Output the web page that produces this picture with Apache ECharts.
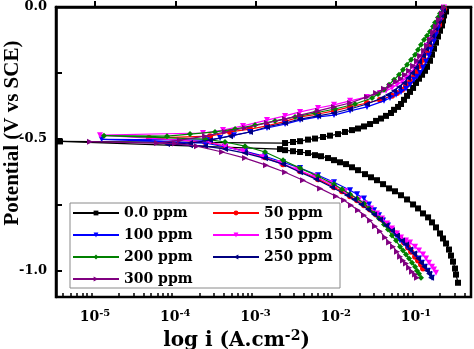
<!DOCTYPE html>
<html>
<head>
<meta charset="utf-8">
<script src="https://cdn.jsdelivr.net/npm/echarts@6/dist/echarts.min.js"></script>
<style>html,body{margin:0;padding:0;background:#fff}#c{width:474px;height:349px}</style>
</head>
<body>
<div id="c"></div>
<script>
// Tick labels / ticks
const xMajorExp = [-5, -4, -3, -2, -1];
const minorMultipliers = [2, 3, 4, 5, 6, 7, 8, 9];
const yLabels = [-1.0, -0.5, 0.0];
const yTicks = [-1.0, -0.75, -0.5, -0.25, 0.0];
const seriesNames = ['0.0 ppm', '50 ppm', '100 ppm', '150 ppm', '200 ppm', '250 ppm', '300 ppm'];

// Each curve: log i values and potentials (V vs SCE), cathodic end -> Ecorr -> anodic end
const logI_0 = [-0.477,-0.502,-0.514,-0.539,-0.564,-0.589,-0.626,-0.664,-0.701,-0.751,-0.801,-0.850,-0.913,-0.975,-1.037,-1.112,-1.187,-1.262,-1.336,-1.411,-1.486,-1.561,-1.636,-1.723,-1.798,-1.872,-1.947,-2.022,-2.097,-2.184,-2.259,-2.346,-2.445,-2.533,-2.632,-2.695,
  -5.436,
  -2.632,-2.533,-2.445,-2.346,-2.259,-2.159,-2.072,-1.972,-1.885,-1.798,-1.723,-1.648,-1.573,-1.498,-1.436,-1.374,-1.312,-1.274,-1.224,-1.187,-1.150,-1.112,-1.075,-1.037,-1.000,-0.963,-0.925,-0.888,-0.863,-0.826,-0.801,-0.776,-0.751,-0.726,-0.701,-0.676,-0.664,-0.651,-0.626];
const E_0 = [-1.046,-1.015,-0.992,-0.966,-0.943,-0.920,-0.897,-0.878,-0.859,-0.836,-0.817,-0.798,-0.783,-0.764,-0.749,-0.730,-0.714,-0.699,-0.688,-0.672,-0.657,-0.646,-0.634,-0.619,-0.608,-0.596,-0.589,-0.581,-0.573,-0.566,-0.562,-0.554,-0.550,-0.547,-0.543,-0.539,
  -0.510,
  -0.516,-0.512,-0.509,-0.503,-0.499,-0.493,-0.488,-0.482,-0.474,-0.467,-0.461,-0.453,-0.444,-0.432,-0.423,-0.413,-0.402,-0.390,-0.379,-0.368,-0.352,-0.337,-0.322,-0.307,-0.288,-0.272,-0.257,-0.242,-0.227,-0.204,-0.181,-0.158,-0.135,-0.112,-0.090,-0.070,-0.051,-0.032,-0.017];

const logI_50 = [-0.913,-0.938,-0.975,-1.012,-1.062,-1.100,-1.150,-1.199,-1.249,-1.299,-1.361,-1.424,-1.498,-1.573,-1.648,-1.735,-1.822,-1.922,-2.022,-2.221,-2.445,-2.657,-2.882,-3.131,-3.380,-3.629,
  -4.327,
  -3.567,-3.318,-3.069,-2.857,-2.632,-2.445,-2.221,-2.022,-1.822,-1.611,-1.449,-1.299,-1.237,-1.174,-1.125,-1.075,-1.025,-0.988,-0.938,-0.900,-0.863,-0.826,-0.788,-0.751,-0.713,-0.688,-0.651];
const E_50 = [-0.992,-0.977,-0.962,-0.947,-0.928,-0.912,-0.893,-0.876,-0.859,-0.844,-0.825,-0.806,-0.787,-0.768,-0.752,-0.733,-0.718,-0.699,-0.684,-0.653,-0.623,-0.596,-0.570,-0.547,-0.528,-0.512,
  -0.497,
  -0.490,-0.474,-0.463,-0.451,-0.434,-0.417,-0.406,-0.394,-0.379,-0.364,-0.352,-0.337,-0.326,-0.314,-0.299,-0.284,-0.265,-0.246,-0.223,-0.200,-0.173,-0.147,-0.120,-0.093,-0.067,-0.040,-0.006];

const logI_100 = [-0.801,-0.826,-0.850,-0.888,-0.925,-0.963,-1.012,-1.062,-1.112,-1.150,-1.199,-1.249,-1.299,-1.349,-1.411,-1.461,-1.523,-1.586,-1.648,-1.735,-1.822,-2.022,-2.221,-2.445,-2.657,-2.882,-3.131,-3.380,-3.629,
  -4.917,
  -3.604,-3.442,-3.268,-3.069,-2.857,-2.632,-2.445,-2.221,-2.022,-1.822,-1.611,-1.399,-1.324,-1.249,-1.187,-1.125,-1.075,-1.025,-0.988,-0.950,-0.913,-0.875,-0.838,-0.813,-0.776,-0.751,-0.726,-0.701,-0.664];
const E_100 = [-1.027,-1.015,-1.000,-0.985,-0.970,-0.954,-0.939,-0.924,-0.909,-0.897,-0.886,-0.867,-0.848,-0.829,-0.810,-0.790,-0.771,-0.749,-0.726,-0.710,-0.695,-0.665,-0.638,-0.611,-0.589,-0.566,-0.547,-0.531,-0.516,
  -0.502,
  -0.505,-0.497,-0.486,-0.474,-0.459,-0.444,-0.429,-0.417,-0.410,-0.394,-0.379,-0.356,-0.345,-0.333,-0.322,-0.310,-0.295,-0.276,-0.265,-0.250,-0.230,-0.208,-0.185,-0.162,-0.131,-0.105,-0.082,-0.055,-0.017];

const logI_150 = [-0.751,-0.776,-0.801,-0.838,-0.875,-0.913,-0.963,-1.012,-1.075,-1.125,-1.187,-1.237,-1.299,-1.361,-1.424,-1.486,-1.561,-1.636,-1.710,-1.885,-2.072,-2.271,-2.483,-2.695,-2.919,-3.156,-3.380,-3.567,
  -4.938,
  -3.654,-3.405,-3.156,-2.857,-2.632,-2.445,-2.221,-2.022,-1.822,-1.611,-1.449,-1.374,-1.299,-1.237,-1.174,-1.125,-1.075,-1.025,-0.988,-0.938,-0.900,-0.863,-0.826,-0.788,-0.751,-0.713,-0.688,-0.651];
const E_150 = [-1.008,-0.996,-0.985,-0.970,-0.954,-0.939,-0.924,-0.909,-0.893,-0.886,-0.874,-0.859,-0.840,-0.821,-0.802,-0.783,-0.764,-0.745,-0.730,-0.699,-0.669,-0.642,-0.616,-0.592,-0.570,-0.547,-0.528,-0.512,
  -0.486,
  -0.478,-0.467,-0.451,-0.429,-0.413,-0.398,-0.383,-0.371,-0.356,-0.341,-0.326,-0.318,-0.307,-0.295,-0.284,-0.269,-0.253,-0.234,-0.215,-0.192,-0.170,-0.147,-0.124,-0.097,-0.074,-0.051,-0.029,-0.002];

const logI_200 = [-0.938,-0.963,-0.988,-1.012,-1.050,-1.087,-1.125,-1.162,-1.199,-1.249,-1.299,-1.349,-1.399,-1.461,-1.523,-1.586,-1.648,-1.735,-1.822,-1.922,-2.022,-2.221,-2.445,-2.657,-2.882,-3.131,-3.380,-3.629,
  -4.888,
  -4.103,-3.816,-3.505,-3.255,-3.006,-2.757,-2.508,-2.259,-2.009,-1.760,-1.548,-1.474,-1.399,-1.336,-1.274,-1.212,-1.162,-1.112,-1.062,-1.012,-0.975,-0.938,-0.900,-0.863,-0.826,-0.788,-0.763,-0.726,-0.701,-0.651];
const E_200 = [-1.027,-1.012,-1.000,-0.985,-0.970,-0.954,-0.939,-0.924,-0.909,-0.886,-0.867,-0.844,-0.825,-0.802,-0.783,-0.764,-0.745,-0.726,-0.710,-0.691,-0.672,-0.642,-0.611,-0.581,-0.550,-0.528,-0.512,-0.501,
  -0.488,
  -0.490,-0.482,-0.474,-0.463,-0.448,-0.432,-0.417,-0.402,-0.387,-0.368,-0.345,-0.330,-0.314,-0.295,-0.276,-0.257,-0.238,-0.219,-0.200,-0.181,-0.162,-0.143,-0.124,-0.109,-0.093,-0.074,-0.059,-0.040,-0.025,-0.002];

const logI_250 = [-0.813,-0.838,-0.863,-0.900,-0.938,-0.975,-1.025,-1.075,-1.125,-1.174,-1.237,-1.299,-1.374,-1.449,-1.523,-1.598,-1.685,-1.773,-1.860,-2.047,-2.246,-2.445,-2.657,-2.882,-3.131,-3.380,-3.629,-3.816,
  -4.103,
  -3.816,-3.567,-3.318,-3.069,-2.857,-2.632,-2.445,-2.221,-2.022,-1.822,-1.611,-1.424,-1.349,-1.274,-1.212,-1.150,-1.100,-1.050,-1.000,-0.963,-0.913,-0.875,-0.838,-0.801,-0.763,-0.726,-0.688,-0.664];
const E_250 = [-1.027,-1.012,-1.000,-0.985,-0.970,-0.954,-0.935,-0.920,-0.901,-0.886,-0.867,-0.848,-0.829,-0.806,-0.787,-0.768,-0.749,-0.730,-0.714,-0.684,-0.653,-0.627,-0.596,-0.574,-0.554,-0.539,-0.528,-0.524,
  -0.520,
  -0.516,-0.505,-0.490,-0.474,-0.455,-0.440,-0.425,-0.413,-0.402,-0.387,-0.368,-0.345,-0.333,-0.318,-0.303,-0.288,-0.269,-0.250,-0.230,-0.208,-0.185,-0.158,-0.135,-0.109,-0.082,-0.055,-0.032,-0.010];

const logI_300 = [-0.988,-1.012,-1.050,-1.087,-1.125,-1.162,-1.199,-1.237,-1.287,-1.336,-1.386,-1.449,-1.511,-1.573,-1.648,-1.723,-1.810,-1.897,-1.997,-2.196,-2.408,-2.632,-2.869,-3.131,-3.417,-3.729,-4.003,
  -5.062,
  -4.227,-3.941,-3.629,-3.380,-3.131,-2.857,-2.632,-2.445,-2.221,-2.022,-1.822,-1.611,-1.498,-1.399,-1.324,-1.249,-1.187,-1.137,-1.087,-1.037,-0.988,-0.950,-0.900,-0.863,-0.826,-0.788,-0.751,-0.713,-0.676,-0.651];
const E_300 = [-1.027,-1.015,-1.004,-0.989,-0.973,-0.962,-0.947,-0.928,-0.909,-0.893,-0.874,-0.851,-0.832,-0.810,-0.790,-0.771,-0.752,-0.733,-0.718,-0.688,-0.657,-0.627,-0.600,-0.573,-0.550,-0.528,-0.518,
  -0.511,
  -0.516,-0.505,-0.490,-0.474,-0.459,-0.440,-0.425,-0.410,-0.394,-0.379,-0.364,-0.341,-0.326,-0.310,-0.299,-0.284,-0.272,-0.257,-0.242,-0.223,-0.204,-0.185,-0.166,-0.147,-0.124,-0.097,-0.074,-0.048,-0.025,-0.002];

const curves = [[logI_0,E_0],[logI_50,E_50],[logI_100,E_100],[logI_150,E_150],[logI_200,E_200],[logI_250,E_250],[logI_300,E_300]];
const colors = ['#000000','#ff0000','#0000ff','#ff00ff','#008000','#000080','#800080'];
const symbols = ['rect','circle','triangle','triangle','diamond','triangle','triangle'];
const rotations = [0,0,180,180,0,90,-90];

const FONT = 'DejaVu Serif';
const minorTicks = [];
for (let n = -6; n <= -1; n++) minorMultipliers.forEach(k => minorTicks.push(n + Math.log10(k)));

const chart = echarts.init(document.getElementById('c'), null, {renderer: 'canvas'});
const series = curves.map((c, idx) => ({
  name: seriesNames[idx],
  type: 'line',
  data: c[0].map((v, j) => [v, c[1][j]]),
  symbol: symbols[idx],
  symbolRotate: rotations[idx],
  symbolSize: 6,
  showSymbol: true,
  itemStyle: {color: colors[idx]},
  lineStyle: {color: colors[idx], width: 1.2},
  animation: false,
  z: 2 + idx
}));

const legendText = {fontFamily: FONT, fontWeight: 'bold', fontSize: 14, color: '#000', lineHeight: 16, width: 76};
chart.setOption({
  animation: false,
  grid: {left: 56, right: 3, top: 7, bottom: 52, show: true, borderColor: '#000', borderWidth: 2.5,
    backgroundColor: '#fff', outerBoundsMode: 'none', containLabel: false},
  legend: [
    {data: [seriesNames[0], seriesNames[2], seriesNames[4], seriesNames[6]], orient: 'vertical', left: 70, top: 203,
     padding: [2, 140, 1, 2], itemGap: 6, itemWidth: 46, itemHeight: 6, borderColor: '#8a8a8a', borderWidth: 1,
     backgroundColor: '#fff', textStyle: legendText},
    {data: [seriesNames[1], seriesNames[3], seriesNames[5]], orient: 'vertical', left: 210, top: 203,
     padding: [2, 2, 1, 2], itemGap: 6, itemWidth: 46, itemHeight: 6, textStyle: legendText}
  ],
  graphic: [{
    type: 'text', x: 13, y: 133, rotation: Math.PI / 2, silent: true,
    style: {text: 'Potential (V vs SCE)', fontFamily: 'Liberation Serif', fontWeight: 'bold', fontSize: 21,
      fill: '#000', align: 'center', verticalAlign: 'middle'}
  }],
  xAxis: [{
    type: 'value', min: -5.486, max: -0.315, position: 'bottom',
    name: '{t|log i (A.cm}{s|-2}{t|)}', nameLocation: 'middle', nameGap: 30,
    nameTextStyle: {padding: [0, 54, 0, 0], rich: {
      t: {fontFamily: FONT, fontWeight: 'bold', fontSize: 20, color: '#000'},
      s: {fontFamily: FONT, fontWeight: 'bold', fontSize: 14, color: '#000', padding: [0, 0, 10, 0]}}},
    axisLine: {show: true, lineStyle: {color: '#000', width: 2.5}},
    axisTick: {show: true, inside: true, length: 6, lineStyle: {color: '#000', width: 2}, customValues: xMajorExp},
    axisLabel: {customValues: xMajorExp, margin: 11, formatter: v => '{b|10}{s|' + v + '}',
      rich: {b: {fontFamily: FONT, fontWeight: 'bold', fontSize: 14, color: '#000'},
             s: {fontFamily: FONT, fontWeight: 'bold', fontSize: 10, color: '#000', padding: [0, 0, 8, 0]}}},
    splitLine: {show: false}
  }, {
    type: 'value', min: -5.486, max: -0.315, position: 'bottom', gridIndex: 0,
    axisLine: {show: false},
    axisTick: {show: true, inside: true, length: 4, lineStyle: {color: '#000', width: 1.5}, customValues: minorTicks},
    axisLabel: {show: false}, splitLine: {show: false}
  }],
  yAxis: {
    type: 'value', min: -1.1, max: 0,
    axisLine: {show: true, lineStyle: {color: '#000', width: 2.5}},
    axisTick: {show: true, inside: true, length: 6, lineStyle: {color: '#000', width: 2}, customValues: yTicks},
    axisLabel: {customValues: yLabels, margin: 9, formatter: v => v.toFixed(1),
      fontFamily: FONT, fontWeight: 'bold', fontSize: 13, color: '#000'},
    splitLine: {show: false}
  },
  series: series
});
</script>
</body>
</html>
